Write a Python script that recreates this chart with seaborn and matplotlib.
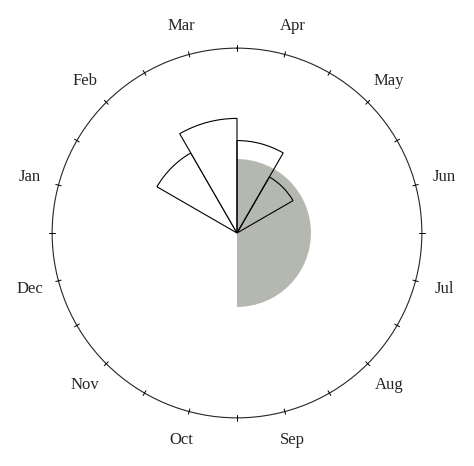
import numpy as np
import matplotlib
matplotlib.use("Agg")
import matplotlib.pyplot as plt
import seaborn as sns

sns.set_style("white")
plt.rcParams['font.family'] = ['Liberation Serif', 'DejaVu Serif']

months = ["Jan","Feb","Mar","Apr","May","Jun","Jul","Aug","Sep","Oct","Nov","Dec"]
# outlined wedges: month -> radius (fraction of outer circle)
wedge_months = ["Feb", "Mar", "Apr", "May"]
wedge_values = [0.50, 0.62, 0.50, 0.35]
# grey half-disc from Apr to Sep
shade_start_month = "Apr"
shade_end_month = "Sep"
shade_value = 0.40

fig = plt.figure(figsize=(4.74, 4.66), dpi=100)
ax = fig.add_axes([0.11, 0.1, 0.78, 0.8], projection='polar')
ax.set_theta_zero_location('N')
ax.set_theta_direction(-1)
ax.set_ylim(0, 1)

def start_angle(m):
    i = months.index(m)
    return np.deg2rad(((i - 3) % 12) * 30)

s = start_angle(shade_start_month)
e = start_angle(shade_end_month) + np.deg2rad(30)
ax.bar([s], [shade_value], width=e - s, align='edge', color='#b4b8b0', edgecolor='none', zorder=1)

for m, v in zip(wedge_months, wedge_values):
    filled = start_angle(m) >= np.deg2rad(180)
    ax.bar([start_angle(m)], [v], width=np.deg2rad(30), align='edge',
           facecolor='white' if filled else 'none', edgecolor='black',
           linewidth=0.8, zorder=3)

ax.set_yticks([])
ax.set_xticks([start_angle(m) + np.deg2rad(15) for m in months])
ax.set_xticklabels(months, fontsize=12)
ax.tick_params(axis='x', pad=11)
ax.grid(False)
ax.spines['polar'].set_linewidth(0.8)
for a in np.deg2rad(np.arange(0, 360, 15)):
    ax.plot([a, a], [0.985, 1.015], color='black', lw=0.7, clip_on=False, zorder=4)

fig.savefig("out.png", dpi=100)
